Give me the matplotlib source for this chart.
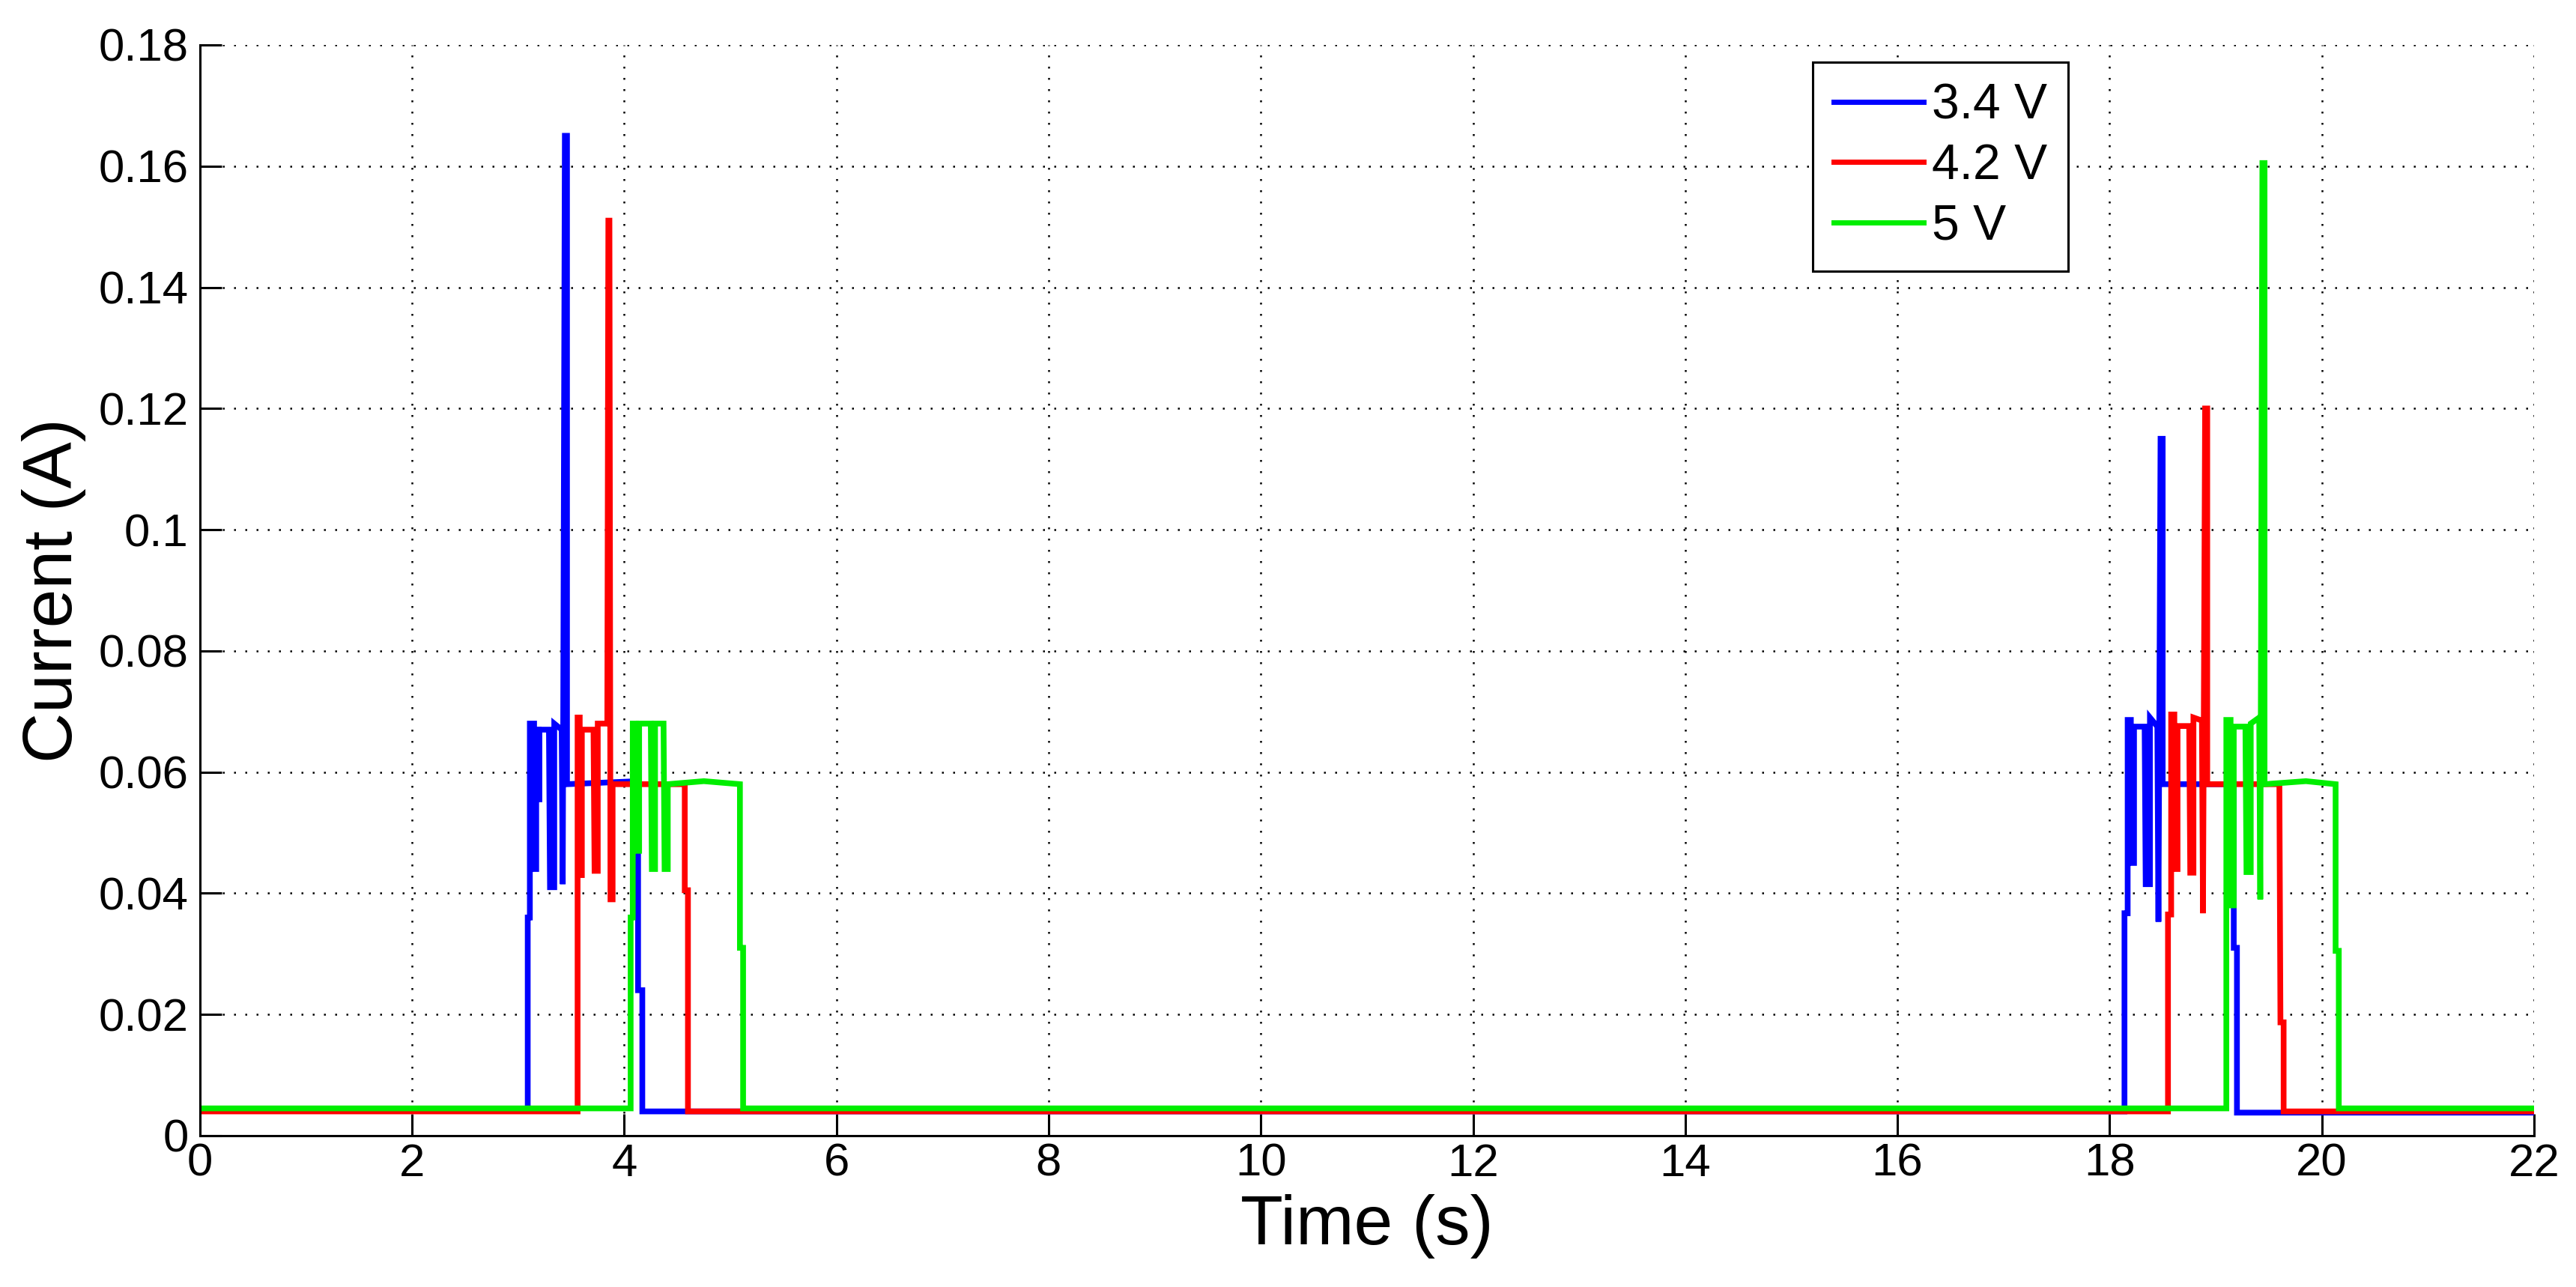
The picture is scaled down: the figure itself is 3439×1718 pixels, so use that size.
"""
plot.py - 공급 전압별 전류 파형 (3.4 V / 4.2 V / 5 V)
MATLAB 스타일 그림을 matplotlib으로 다시 그림
"""

import matplotlib
matplotlib.use("Agg")
import matplotlib.pyplot as plt
from matplotlib.ticker import FuncFormatter

plt.rcParams['font.family'] = ['Liberation Sans', 'DejaVu Sans']

# ----------------------------------------------------------
# 데이터 (그림에서 읽은 값, 시간 [s] / 전류 [A])
# ----------------------------------------------------------
t_34 = [0.00, 3.09, 3.09, 3.11, 3.11, 3.15, 3.15, 3.17, 3.17, 3.19, 3.19, 3.20,
        3.20, 3.29, 3.30, 3.34, 3.34, 3.41, 3.42, 3.44, 3.46, 3.46, 4.13, 4.13,
        4.17, 4.17,
        18.14, 18.14, 18.17, 18.17, 18.20, 18.20, 18.23, 18.23, 18.33, 18.34,
        18.38, 18.38, 18.45, 18.46, 18.48, 18.50, 18.50, 19.17, 19.17, 19.20,
        19.20, 22.00]
i_34 = [0.0042, 0.0042, 0.036, 0.036, 0.068, 0.068, 0.044, 0.044, 0.067, 0.067, 0.0555, 0.0555,
        0.067, 0.067, 0.041, 0.041, 0.068, 0.067, 0.0415, 0.165, 0.165, 0.058, 0.0585, 0.024,
        0.024, 0.0040,
        0.0040, 0.0367, 0.0367, 0.0686, 0.0686, 0.045, 0.045, 0.0675, 0.0675, 0.0415,
        0.0415, 0.069, 0.0675, 0.0353, 0.115, 0.115, 0.058, 0.058, 0.031, 0.031,
        0.0038, 0.0038]

t_42 = [0.00, 3.56, 3.56, 3.58, 3.58, 3.60, 3.60, 3.71, 3.72, 3.75, 3.75, 3.84,
        3.85, 3.86, 3.87, 3.89, 3.89, 4.57, 4.57, 4.60, 4.60,
        18.55, 18.55, 18.58, 18.58, 18.61, 18.61, 18.64, 18.64, 18.75, 18.76,
        18.79, 18.79, 18.87, 18.88, 18.90, 18.92, 18.92, 19.60, 19.61, 19.64,
        19.64, 22.00]
i_42 = [0.0040, 0.0040, 0.069, 0.069, 0.043, 0.043, 0.067, 0.067, 0.0437, 0.0437, 0.068, 0.068,
        0.151, 0.151, 0.039, 0.039, 0.058, 0.058, 0.0405, 0.0405, 0.0040,
        0.0040, 0.0365, 0.0365, 0.0695, 0.0695, 0.044, 0.044, 0.0676, 0.0676, 0.0434,
        0.0434, 0.069, 0.0685, 0.0367, 0.120, 0.120, 0.058, 0.058, 0.0187, 0.0187,
        0.0040, 0.0040]

t_50 = [0.00, 4.06, 4.06, 4.08, 4.08, 4.11, 4.12, 4.14, 4.14, 4.25, 4.26, 4.29,
        4.29, 4.37, 4.38, 4.41, 4.41, 4.75, 5.09, 5.09, 5.12, 5.12,
        19.10, 19.10, 19.14, 19.14, 19.17, 19.17, 19.28, 19.29, 19.33, 19.33,
        19.41, 19.42, 19.44, 19.46, 19.46, 19.85, 20.13, 20.13, 20.16, 20.16,
        22.00]
i_50 = [0.0045, 0.0045, 0.036, 0.036, 0.068, 0.068, 0.047, 0.047, 0.068, 0.068, 0.044, 0.044,
        0.068, 0.068, 0.044, 0.044, 0.058, 0.0585, 0.058, 0.031, 0.031, 0.0045,
        0.0045, 0.0686, 0.0686, 0.038, 0.038, 0.0675, 0.0675, 0.0435, 0.0435, 0.068,
        0.069, 0.039, 0.1605, 0.1605, 0.058, 0.0585, 0.058, 0.0305, 0.0305, 0.0045,
        0.0045]

series_labels = ['3.4 V', '4.2 V', '5 V']
series_colors = ['#0000ff', '#ff0000', '#00ee00']

x_ticks = list(range(0, 23, 2))
y_ticks = [0, 0.02, 0.04, 0.06, 0.08, 0.10, 0.12, 0.14, 0.16, 0.18]

# ----------------------------------------------------------
# 그림
# ----------------------------------------------------------
fig = plt.figure(figsize=(34.39, 17.18), dpi=100)
ax = fig.add_axes([0.0776, 0.1176, 0.9061, 0.8475])

for t, i, lab, col in zip([t_34, t_42, t_50], [i_34, i_42, i_50],
                          series_labels, series_colors):
    ax.plot(t, i, color=col, lw=5.5, label=lab, solid_joinstyle='miter')

ax.set_xlim(0, 22)
ax.set_ylim(0, 0.18)
ax.set_xticks(x_ticks)
ax.set_yticks(y_ticks)
ax.yaxis.set_major_formatter(FuncFormatter(lambda v, p: f"{v:g}"))

# MATLAB 느낌: 점선 격자, 안쪽 눈금, box off
ax.grid(True, color='black', linestyle=(0, (1, 5)), linewidth=1.8)
ax.set_axisbelow(True)
for side in ['top', 'right']:
    ax.spines[side].set_visible(False)
for side in ['left', 'bottom']:
    ax.spines[side].set_linewidth(2.2)

ax.tick_params(axis='both', direction='in', length=21, width=2.2,
               labelsize=44.5, top=False, right=False)
ax.tick_params(axis='x', pad=7)
ax.tick_params(axis='y', pad=11)

ax.set_xlabel('Time (s)', fontsize=67, labelpad=8)
ax.set_ylabel('Current (A)', fontsize=67, labelpad=12)

# 범례 (오른쪽 위, 네모 테두리)
leg = ax.legend(loc='upper left', bbox_to_anchor=(0.691, 0.984),
                borderaxespad=0, fontsize=47.5, frameon=True, fancybox=False,
                framealpha=1, edgecolor='black', borderpad=0.42,
                labelspacing=0.28, handlelength=1.82, handletextpad=0.17)
leg.get_frame().set_linewidth(2.2)
for line in leg.get_lines():
    line.set_linewidth(5)

fig.savefig('out.png', dpi=100, facecolor='white')
